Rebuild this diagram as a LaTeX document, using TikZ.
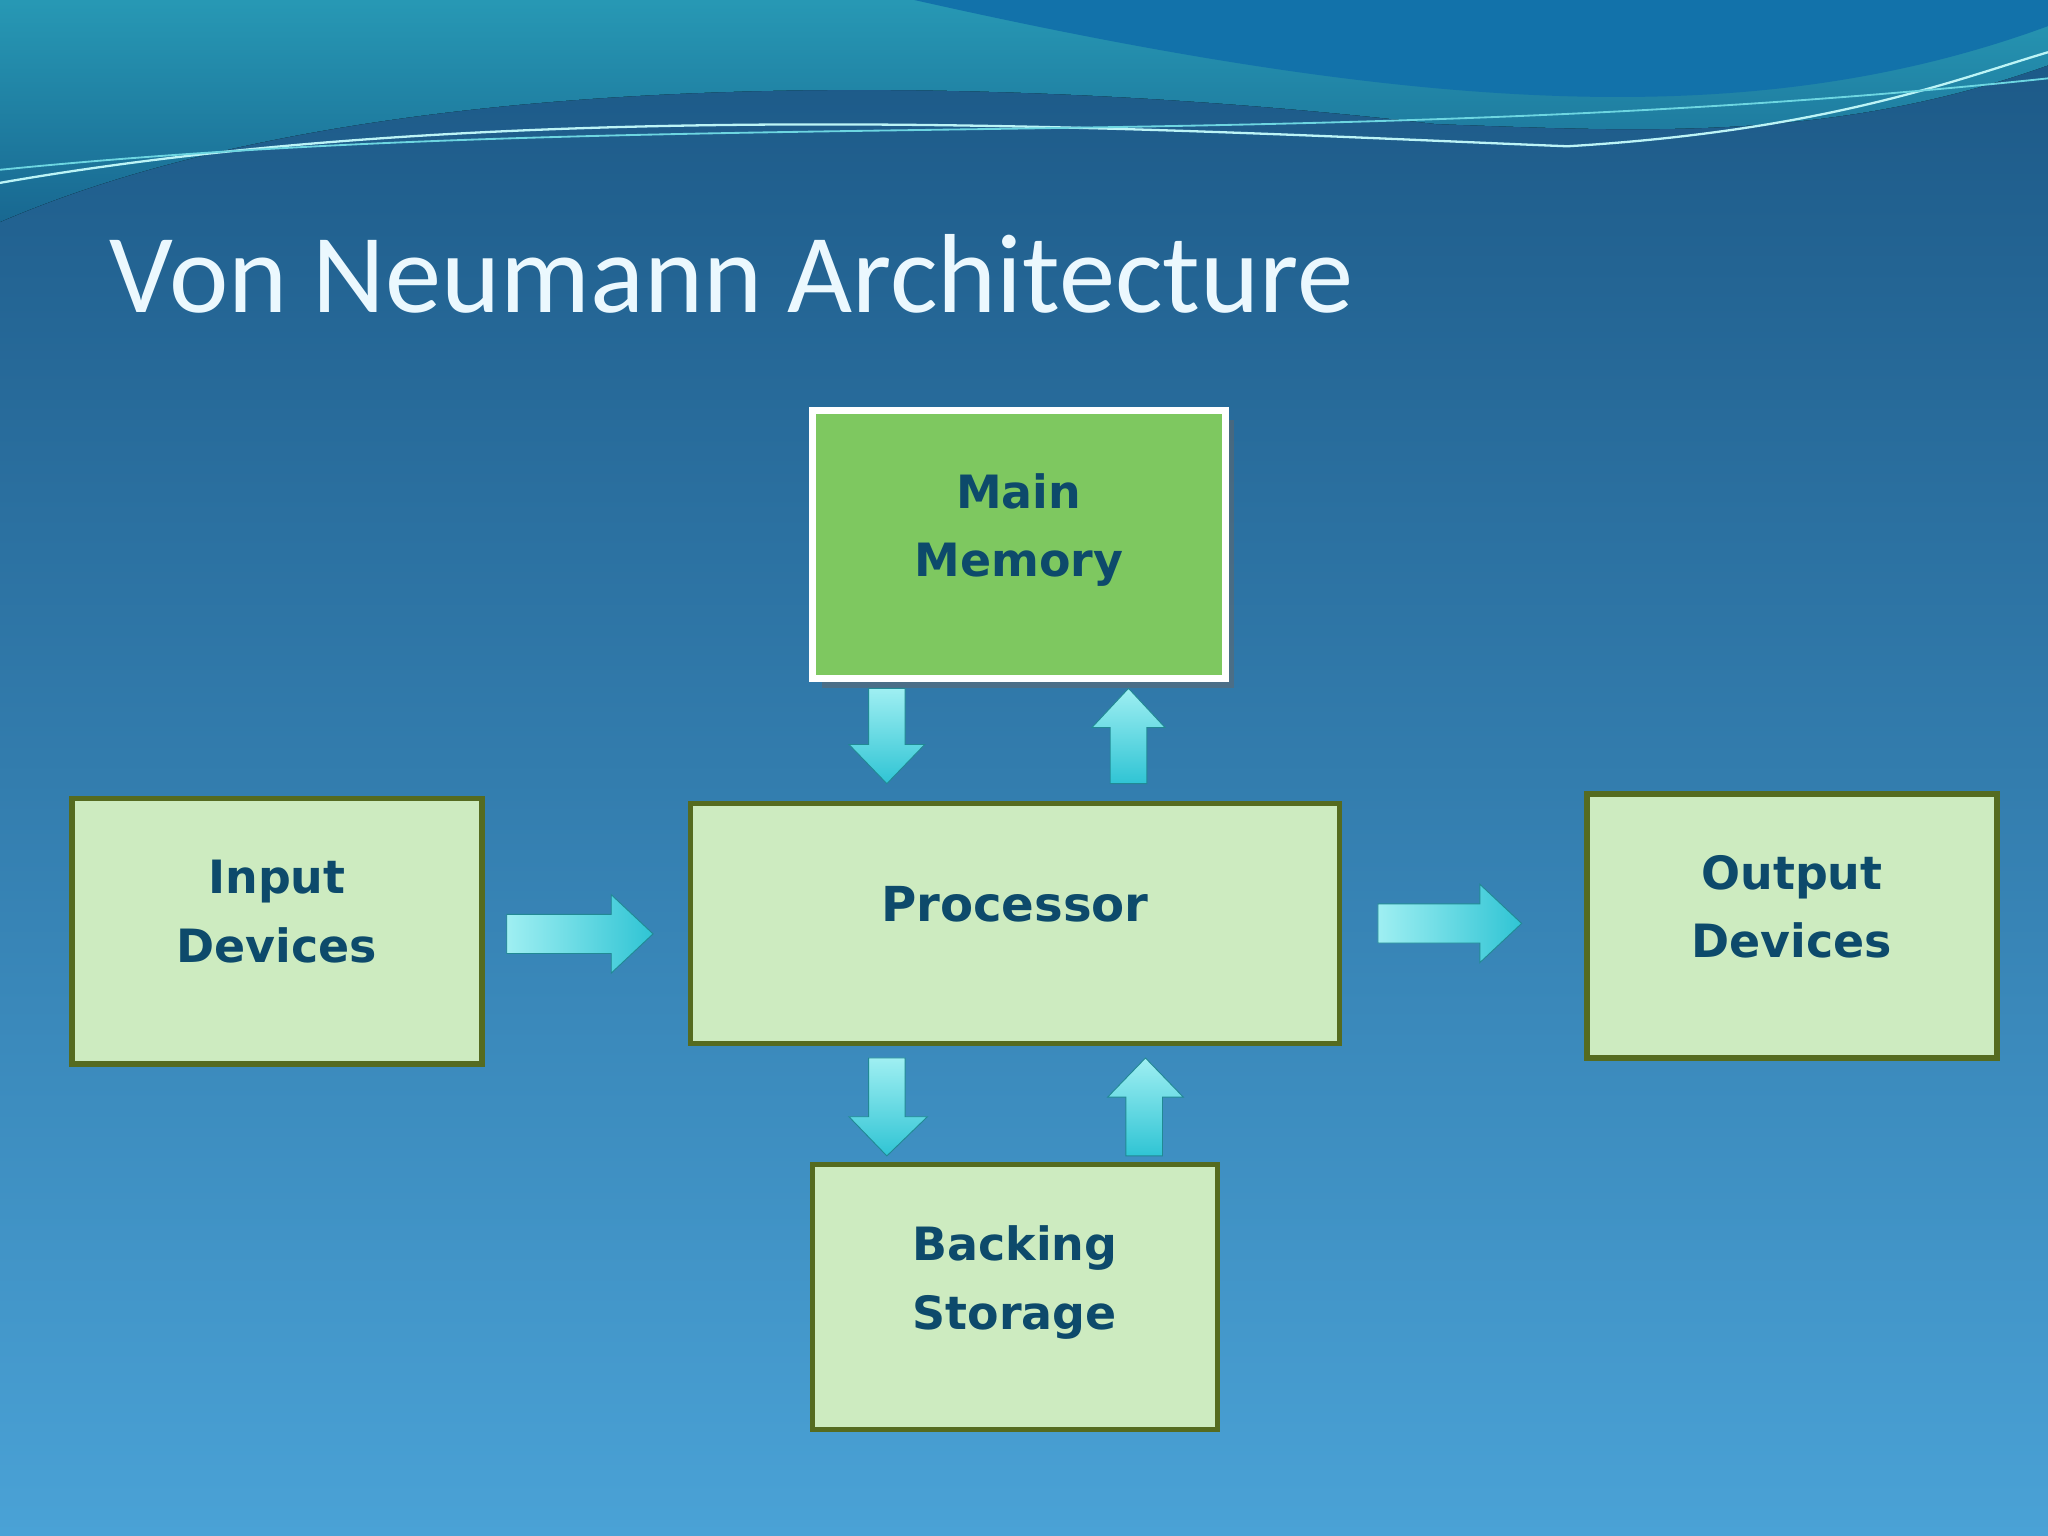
\documentclass[tikz,border=0pt]{standalone}
\usepackage{fontspec}
\setmainfont{DejaVu Sans}
\newfontfamily\titlefont{Carlito}
\usetikzlibrary{shadows}
\definecolor{bgtop}{HTML}{1B5785}
\definecolor{bgbot}{HTML}{4AA2D6}
\definecolor{txt}{HTML}{0D4A6B}
\definecolor{lg}{HTML}{CDEBC0}
\definecolor{dg}{HTML}{7EC860}
\definecolor{olive}{HTML}{556B20}
\definecolor{cy1}{HTML}{2FC4D4}
\definecolor{cy2}{HTML}{9FEFF2}
\definecolor{wave}{HTML}{1272AA}
\begin{document}
\begin{tikzpicture}[x=0.02cm,y=-0.02cm,
 box/.style={draw=olive,line width=2.4pt,fill=lg,inner sep=0pt,text=txt,font=\bfseries\fontsize{20}{30}\selectfont,align=center,text depth=0.6cm},
 arr/.style={draw=cy1!70!black,line width=0.4pt,top color=cy2,bottom color=cy1}]
\useasboundingbox (0,0) rectangle (1568,1176);
\fill[top color=bgtop,bottom color=bgbot] (0,0) rectangle (1568,1176);
% waves
\fill[top color=cy1!60!bgtop,bottom color=bgtop!90!cyan] (0,0) -- (1568,0) -- (1568,50) .. controls (1400,110) and (1250,100) .. (1100,95) .. controls (800,60) and (300,40) .. (0,170) -- cycle;
\fill[wave] (700,0) -- (1568,0) -- (1568,20) .. controls (1350,100) and (1100,90) .. (700,0) -- cycle;
\draw[cy2!70,line width=1pt] (0,140) .. controls (400,70) and (900,100) .. (1200,112) .. controls (1400,100) and (1500,60) .. (1568,40);
\draw[cy1!70,line width=0.8pt] (0,130) .. controls (500,80) and (1000,120) .. (1568,60);
\node[anchor=west,text=cyan!8,font=\titlefont\fontsize{49}{52}\selectfont] (title) at (78,210) {Von Neumann Architecture};
% boxes
\node[box,minimum width=6.32cm,minimum height=4.1cm,fill=dg,draw=white,line width=3pt,drop shadow={shadow xshift=4pt,shadow yshift=-4pt,fill=black!60,opacity=0.5}] (mem) at (780,417) {Main\\Memory};
\node[box,minimum width=6.28cm,minimum height=4.06cm] (in) at (212,713) {Input\\Devices};
\node[box,minimum width=9.94cm,minimum height=3.68cm,font=\bfseries\fontsize{21}{30}\selectfont] (proc) at (777,707) {Processor};
\node[box,minimum width=6.28cm,minimum height=4.04cm] (out) at (1372,709) {Output\\Devices};
\node[box,minimum width=6.2cm,minimum height=4.06cm] (back) at (777,993) {Backing\\Storage};
% block arrows
\draw[arr] (665,527) -- (693,527) -- (693,570) -- (708,570) -- (679,600) -- (650,570) -- (665,570) -- cycle;
\draw[arr] (850,600) -- (878,600) -- (878,557) -- (892,557) -- (864,527) -- (836,557) -- (850,557) -- cycle;
\draw[arr] (665,810) -- (693,810) -- (693,855) -- (710,855) -- (679,885) -- (650,855) -- (665,855) -- cycle;
\draw[arr] (862,885) -- (890,885) -- (890,840) -- (906,840) -- (877,810) -- (848,840) -- (862,840) -- cycle;
\draw[draw=cy1!70!black,left color=cy2,right color=cy1] (388,700) -- (468,700) -- (468,685) -- (500,715) -- (468,745) -- (468,730) -- (388,730) -- cycle;
\draw[draw=cy1!70!black,left color=cy2,right color=cy1] (1055,692) -- (1133,692) -- (1133,677) -- (1165,707) -- (1133,737) -- (1133,722) -- (1055,722) -- cycle;
\end{tikzpicture}
\end{document}
